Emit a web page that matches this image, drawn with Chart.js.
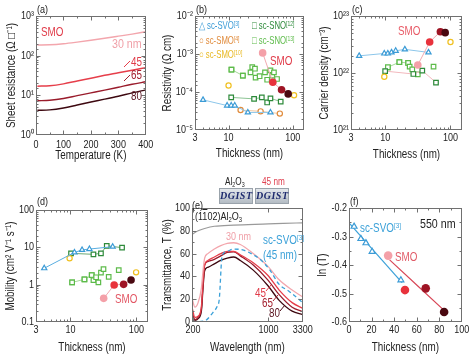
<!DOCTYPE html>
<html>
<head>
<meta charset="utf-8">
<script src="https://cdn.jsdelivr.net/npm/chart.js@4.4.1/dist/chart.umd.min.js"></script>
<style>
  html, body { margin:0; padding:0; background:#fff; }
  #fig { position:relative; width:474px; height:356px; overflow:hidden; background:#fff;
         font-family:'Liberation Sans',Arial,sans-serif; color:#222; }
  #fig canvas { position:absolute; }
  .lbl { position:absolute; white-space:nowrap; line-height:1; font-size:12px; z-index:5;
         transform:scaleX(0.82); transform-origin:0 0; }
  .leg { transform:scaleX(0.74); font-size:10.5px; }
  .lbl sup { font-size:65%; vertical-align:0.5em; line-height:0; }
  .lbl sub { font-size:65%; vertical-align:-0.25em; line-height:0; }
  .logo { position:absolute; z-index:5; background:linear-gradient(#e4e8ec,#b4bcc4); border:1px solid #9aa3ab;
          color:#1d2a6e; font-weight:bold; font-style:italic; font-size:10px; line-height:14px; text-align:center;
          font-family:'Liberation Serif','DejaVu Serif',serif; letter-spacing:0.5px; }
  svg { position:absolute; left:0; top:0; z-index:4; }
</style>
</head>
<body>
<div id="fig">
  <canvas id="cA" width="154" height="163" style="left:4px;top:0px"></canvas>
  <canvas id="cB" width="154" height="161" style="left:160px;top:0px"></canvas>
  <canvas id="cC" width="156" height="162" style="left:317px;top:0px"></canvas>
  <canvas id="cD" width="155" height="175" style="left:3px;top:180px"></canvas>
  <canvas id="cE" width="156" height="175" style="left:160px;top:180px"></canvas>
  <canvas id="cF" width="157" height="175" style="left:315px;top:180px"></canvas>

  <svg width="474" height="356">
    <line x1="124" y1="67" x2="130" y2="61" stroke="#e63e4a" stroke-width="1"/>
    <line x1="124" y1="81" x2="130" y2="75" stroke="#a3202f" stroke-width="1"/>
    <line x1="266" y1="291" x2="271" y2="285" stroke="#e63e4a" stroke-width="1"/>
    <line x1="273" y1="301" x2="278" y2="295" stroke="#a3202f" stroke-width="1"/>
    <line x1="280" y1="311" x2="285" y2="305" stroke="#4a0a14" stroke-width="1"/>
  </svg>

  <!-- panel letters -->
  <div class="lbl" style="left:37px;top:4px;font-size:11px">(a)</div>
  <div class="lbl" style="left:196px;top:4px;font-size:11px">(b)</div>
  <div class="lbl" style="left:352px;top:4px;font-size:11px">(c)</div>
  <div class="lbl" style="left:37px;top:196px;font-size:11px">(d)</div>
  <div class="lbl" style="left:192px;top:200px;font-size:11px">(e)</div>
  <div class="lbl" style="left:350px;top:196px;font-size:11px">(f)</div>

  <!-- (a) annotations -->
  <div class="lbl" style="left:41px;top:26px;color:#e03a48">SMO</div>
  <div class="lbl" style="left:112px;top:37px;font-size:13px;color:#f0a0a8">30 nm</div>
  <div class="lbl" style="left:131px;top:56px;color:#e03a48">45</div>
  <div class="lbl" style="left:131px;top:69px;color:#a3202f">65</div>
  <div class="lbl" style="left:131px;top:90px;color:#5a1420">80</div>

  <!-- (b) legend -->
  <div class="lbl leg" style="left:199px;top:20px;color:#3b9bd6">&#9651; sc-SVO<sup>[3]</sup></div>
  <div class="lbl leg" style="left:199px;top:35px;color:#e08a3a">&#9675; sc-SMO<sup>[4]</sup></div>
  <div class="lbl leg" style="left:199px;top:49px;color:#e8b820">&#9675; sc-SMO<sup>[10]</sup></div>
  <div class="lbl leg" style="left:252px;top:20px;color:#2d8a3a">&#9633; sc-SNO<sup>[12]</sup></div>
  <div class="lbl leg" style="left:252px;top:35px;color:#5dbb4a">&#9633; sc-SNO<sup>[13]</sup></div>
  <div class="lbl" style="left:270px;top:55px;color:#e03a48">SMO</div>

  <!-- (c) -->
  <div class="lbl" style="left:398px;top:25px;color:#e85a66">SMO</div>
  <!-- (d) -->
  <div class="lbl" style="left:115px;top:293px;color:#e25563">SMO</div>

  <!-- (e) -->
  <div class="lbl" style="left:225px;top:177px;font-size:10px">Al<sub>2</sub>O<sub>3</sub></div>
  <div class="lbl" style="left:262px;top:177px;font-size:10px;color:#e04050">45 nm</div>
  <div class="logo" style="left:219px;top:188px;width:32px;height:14px">DGIST</div>
  <div class="logo" style="left:255px;top:188px;width:32px;height:14px">DGIST</div>
  <div class="lbl" style="left:195px;top:211px;font-size:11px">(1<span style="text-decoration:overline">1</span>02)Al<sub>2</sub>O<sub>3</sub></div>
  <div class="lbl" style="left:226px;top:231px;font-size:11px;color:#f0a0a8">30 nm</div>
  <div class="lbl" style="left:263px;top:234px;color:#3aa0d8">sc-SVO<sup>[3]</sup></div>
  <div class="lbl" style="left:263px;top:249px;color:#3aa0d8">(45 nm)</div>
  <div class="lbl" style="left:255px;top:287px;color:#e03a48">45</div>
  <div class="lbl" style="left:262px;top:297px;color:#a3202f">65</div>
  <div class="lbl" style="left:269px;top:307px;color:#5a1420">80</div>

  <!-- (f) -->
  <div class="lbl" style="left:420px;top:217px;font-size:13px">550 nm</div>
  <div class="lbl" style="left:360px;top:222px;color:#3aa0d8">sc-SVO<sup>[3]</sup></div>
  <div class="lbl" style="left:395px;top:251px;color:#e05a66">SMO</div>
</div>

<script>
// ================= DATA =================
// (a) sheet resistance vs temperature
const tempK  = [5, 50, 100, 150, 200, 250, 300, 350, 400];
const rs30nm = [185, 188, 200, 220, 245, 275, 310, 350, 400];
const rs45nm = [17, 17.5, 19.5, 23, 27, 32, 37, 43, 50];
const rs65nm = [7.3, 7.5, 8.3, 9.8, 11.5, 13.5, 16, 19, 22];
const rs80nm = [4.2, 4.3, 4.8, 5.7, 6.8, 8.0, 9.5, 11.5, 13.7];

// tick labels
const thickTickLabels = [3, 10, 100];
const wlTicks = [200, 1000, 3300];

// (b) resistivity vs thickness
const svoB_t   = [4, 9.5, 11, 12.5, 20, 45];
const svoB_rho = [6.2e-5, 4.4e-5, 4.4e-5, 4.4e-5, 2.9e-5, 2.9e-5];
const smo4B_t   = [15.4, 31.6, 63];
const smo4B_rho = [3.35e-5, 3.1e-5, 2.7e-5];
const smo10B_t   = [10, 105];
const smo10B_rho = [1.48e-4, 8.2e-5];
const sno12B_t   = [11, 25, 33, 40, 45, 65];
const sno12B_rho = [7.2e-5, 6.6e-5, 7.2e-5, 5.3e-5, 6.8e-5, 5.6e-5];
const sno13B_t   = [11.1, 16.7, 22, 23.4, 25.8, 26.4, 30.5, 37, 40, 45, 48, 51, 57];
const sno13B_rho = [3.9e-4, 2.7e-4, 3.3e-4, 4.5e-4, 4.1e-4, 2.4e-4, 2.6e-4, 3.3e-4, 2.1e-4, 3.7e-4, 2.7e-4, 3.3e-4, 2.2e-4];
const smoB_t   = [34, 49, 67, 85];
const smoB_rho = [1.07e-3, 1.8e-4, 1.15e-4, 8.9e-5];

// (c) carrier density vs thickness
const svoC_t = [4, 9.7, 11, 12.5, 14.5, 20, 46];
const svoC_n = [2.0e22, 2.2e22, 2.2e22, 2.3e22, 2.45e22, 2.6e22, 2.3e22];
const smo10C_t = [9.7, 100];
const smo10C_n = [8.6e21, 3.5e22];
const sno12C_t = [10, 27, 37, 60];
const sno12C_n = [1.08e22, 9.6e21, 1.1e22, 6.8e21];
const sno13C_t = [11, 16.5, 22.5, 23.7, 26, 31.6, 55];
const sno13C_n = [1.26e22, 1.55e22, 1.5e22, 1.29e22, 1.16e22, 9.5e21, 1.29e22];
const smoC_t = [31.6, 48, 70, 83];
const smoC_n = [1.38e22, 3.5e22, 5.3e22, 5.1e22];

// (d) mobility vs thickness
const svoD_t  = [4, 11.5, 15, 19.4, 43.7];
const svoD_mu = [2.75, 7.3, 8.5, 9, 10.4];
const sno12D_t  = [10.2, 22.3, 29, 35.5, 60.6];
const sno12D_mu = [6.9, 6.5, 6.9, 11, 9.8];
const smo10D_t  = [9.7, 99];
const smo10D_mu = [5.1, 2.14];
const sno13D_t  = [10.6, 16.3, 21, 22.3, 24.5, 26.5, 29, 31.7, 38, 54];
const sno13D_mu = [1.15, 1.39, 1.8, 1.33, 1.58, 1.15, 2.1, 2.6, 1.62, 2.46];
const smoD_t  = [31.9, 46, 64, 83];
const smoD_mu = [0.43, 0.98, 1.02, 1.33];

// (e) transmittance spectra
const wlSub  = [193, 255, 324, 427, 633, 1000, 2000, 3300];
const tSub   = [77, 80, 82, 84, 85, 86, 86.5, 87];
const wlSMO  = [193, 221, 255, 290, 307, 324, 358, 427, 495, 564, 633, 702, 839, 993, 1720, 2588, 3300];
const t30nm  = [20, 13, 17, 30, 45, 56, 60, 64, 67, 69, 69.5, 68, 60, 49, 37, 28, 22];
const t45nm  = [12, 4, 5, 14, 35, 50, 54, 57, 60, 62, 62, 59, 52, 41, 28, 17, 12];
const t65nm  = [8, 2, 4, 12, 33, 50, 53, 55, 58, 61, 61.5, 58, 50, 37, 24, 13, 9];
const t80nm  = [6, 1.5, 3, 10, 30, 45, 48, 51, 54, 56, 57, 54, 45.5, 32, 19, 9.5, 6.5];
const wlSVO  = [193, 324, 409, 458, 479, 509, 561, 633, 736, 818, 911, 1074, 1720, 2372, 3300];
const tSVO   = [0, 1, 8, 14, 20, 58, 62, 64, 63, 60, 55, 46, 33, 27, 17];

// (f) ln(T) at 550 nm vs thickness
const svoF_t   = [4.5, 10.5, 15, 20.5, 46];
const svoF_lnT = [-0.265, -0.308, -0.323, -0.353, -0.453];
const svoFit_t   = [0, 47];
const svoFit_lnT = [-0.252, -0.462];
const smoF_t   = [34.7, 49.6, 68, 84.3];
const smoF_lnT = [-0.367, -0.488, -0.482, -0.565];
const smoFit_t   = [36, 85];
const smoFit_lnT = [-0.382, -0.562];

// ================= STYLE =================
const FONT = "'Liberation Sans',Arial,sans-serif";
const TEXT_SQUEEZE = 0.82;
Chart.defaults.font.family = FONT;
Chart.defaults.color = '#222';
const SMO_COLORS = ['#f4a0a8', '#e8323c', '#9e1424', '#4a0810'];
const C_SVO = '#3b9bd6', C_SVO_LINE = '#8cc6ea';
const C_SMO4 = '#e08a3a', C_SMO10 = '#f0c020';
const C_SNO12 = '#2d8a3a', C_SNO13 = '#5dbb4a';

// ---------- helpers ----------
const SUPS = {'0':'⁰','1':'¹','2':'²','3':'³','4':'⁴','5':'⁵','6':'⁶','7':'⁷','8':'⁸','9':'⁹','-':'⁻'};
const supStr = s => String(s).split('').map(c => SUPS[c] || c).join('');
const isPow10 = v => { const l = Math.log10(v); return Math.abs(l - Math.round(l)) < 1e-6; };
const pow10Label = v => isPow10(v) ? '10' + supStr(Math.round(Math.log10(v))) : '';
const thickLabel = v => thickTickLabels.some(t => Math.abs(v - t) < 1e-6) ? String(v) : '';
const plainPow10 = v => isPow10(v) ? (v >= 1 ? String(Math.round(v)) : String(+v.toPrecision(1))) : '';

// condensed text rendering (the figure uses a narrow face)
const condense = {
  id: 'condense',
  beforeInit(chart) {
    const ctx = chart.ctx;
    const orig = CanvasRenderingContext2D.prototype.fillText;
    ctx.fillText = function (t, x, y) {
      this.save();
      this.translate(x, y);
      this.scale(TEXT_SQUEEZE, 1);
      orig.call(this, t, 0, 0);
      this.restore();
    };
  }
};
Chart.register(condense);

// piecewise wavelength axis (linear to 1000 nm, compressed above)
const WL_MIN = 190, WL_MID = 1000, WL_MAX = 3300, MID_FRAC = 0.69;
const warp = w => w <= WL_MID ? (w - WL_MIN) / (WL_MID - WL_MIN) * MID_FRAC
                              : MID_FRAC + (w - WL_MID) / (WL_MAX - WL_MID) * (1 - MID_FRAC);
const unwarp = u => u <= MID_FRAC ? WL_MIN + u / MID_FRAC * (WL_MID - WL_MIN)
                                  : WL_MID + (u - MID_FRAC) / (1 - MID_FRAC) * (WL_MAX - WL_MID);
class WarpScale extends Chart.LinearScale {
  buildTicks() { return wlTicks.map(v => ({ value: v })); }
  getPixelForValue(v) { return (v == null || isNaN(v)) ? NaN : this.getPixelForDecimal(warp(v)); }
  getValueForPixel(p) { return unwarp(this.getDecimalForPixel(p)); }
}
WarpScale.id = 'warp';
WarpScale.defaults = Chart.LinearScale.defaults;
Chart.register(WarpScale);

// frame + inward ticks on all four sides
const frameTicks = {
  id: 'frameTicks',
  afterDatasetsDraw(chart, args, opts) {
    const { ctx, chartArea: a } = chart;
    ctx.save();
    ctx.strokeStyle = '#707070';
    ctx.lineWidth = 1;
    const L = Math.round(a.left) + 0.5, R = Math.round(a.right) - 0.5;
    const T = Math.round(a.top) + 0.5, B = Math.round(a.bottom) - 0.5;
    ctx.strokeRect(L, T, R - L, B - T);
    ['x', 'y'].forEach(id => {
      const s = chart.scales[id];
      const marks = s.ticks.map(t => ({ v: t.value, major: t.label !== '' && t.label != null }));
      const div = opts && opts[id];
      if (div) {
        for (let i = 0; i < s.ticks.length - 1; i++) {
          const v0 = s.ticks[i].value, v1 = s.ticks[i + 1].value;
          for (let k = 1; k < div; k++) marks.push({ v: v0 + (v1 - v0) * k / div, major: false });
        }
      }
      ctx.beginPath();
      marks.forEach(m => {
        const p = Math.round(s.getPixelForValue(m.v)) + 0.5;
        const len = m.major ? 4 : 2;
        if (id === 'x') {
          if (p < L - 0.1 || p > R + 0.1) return;
          ctx.moveTo(p, B); ctx.lineTo(p, B - len);
          ctx.moveTo(p, T); ctx.lineTo(p, T + len);
        } else {
          if (p < T - 0.1 || p > B + 0.1) return;
          ctx.moveTo(L, p); ctx.lineTo(L + len, p);
          ctx.moveTo(R, p); ctx.lineTo(R - len, p);
        }
      });
      ctx.stroke();
    });
    ctx.restore();
  }
};
Chart.register(frameTicks);

function ax(pos, type, min, max, title, size, tickPad, cb, step) {
  return {
    type, min, max, position: pos,
    grid: { display: false, drawTicks: false },
    border: { display: false },
    title: { display: true, text: title, color: '#222', padding: 0, font: { size: 12 } },
    ticks: { autoSkip: false, maxRotation: 0, minRotation: 0, padding: tickPad, color: '#222',
             font: { size: 11 }, callback: cb, stepSize: step },
    afterFit(s) { if (pos === 'left') s.width = size; else s.height = size; }
  };
}

function pts(xs, ys) { return xs.map((x, i) => ({ x, y: ys[i] })); }

function markers(xs, ys, o) {
  return {
    data: pts(xs, ys),
    showLine: !!o.line,
    borderColor: o.line || 'rgba(0,0,0,0)',
    borderWidth: o.lw || 1,
    pointStyle: o.style || 'circle',
    pointRadius: o.r || 2.6,
    pointBorderColor: o.c,
    pointBackgroundColor: o.fill || '#fff',
    pointBorderWidth: o.pbw == null ? 1.2 : o.pbw,
    order: o.order || 0,
    clip: 4
  };
}

function curve(xs, ys, color, o = {}) {
  return {
    data: pts(xs, ys),
    showLine: true,
    borderColor: color,
    borderWidth: o.lw || 1.4,
    borderDash: o.dash || [],
    pointRadius: 0,
    cubicInterpolationMode: 'monotone',
    order: o.order || 0
  };
}

function opts(xA, yA, pad, frame) {
  return {
    responsive: false, animation: false, devicePixelRatio: 1,
    layout: { padding: pad },
    plugins: { legend: { display: false }, tooltip: { enabled: false }, frameTicks: frame || {} },
    scales: { x: xA, y: yA }
  };
}

function smoSet(xs, ys, r, withLine) {
  return markers(xs, ys, { c: SMO_COLORS, fill: SMO_COLORS, r: r, pbw: 0,
                           line: withLine ? '#f2a9b0' : null, order: 0 });
}

// ================= (a) =================
new Chart(document.getElementById('cA'), {
  type: 'scatter',
  data: { datasets: [
    curve(tempK, rs30nm, '#f3a6ad'),
    curve(tempK, rs45nm, '#e63e4a'),
    curve(tempK, rs65nm, '#9a1c2c'),
    curve(tempK, rs80nm, '#3d0810')
  ] },
  options: opts(
    ax('bottom', 'linear', 0, 400, 'Temperature (K)', 28, 3, v => String(v), 100),
    ax('left', 'logarithmic', 1, 1000, 'Sheet resistance (Ω □⁻¹)', 32, 2, pow10Label),
    { top: 16, right: 10, left: 0, bottom: 0 }, { x: 2 })
});

// ================= (b) =================
new Chart(document.getElementById('cB'), {
  type: 'scatter',
  data: { datasets: [
    smoSet(smoB_t, smoB_rho, 3.8, true),
    markers(svoB_t, svoB_rho, { c: C_SVO, style: 'triangle', r: 3, line: C_SVO_LINE, order: 1 }),
    markers(smo4B_t, smo4B_rho, { c: C_SMO4, r: 2.6, line: '#f1c9a4', order: 1 }),
    markers(smo10B_t, smo10B_rho, { c: C_SMO10, r: 2.6, order: 1 }),
    markers(sno12B_t, sno12B_rho, { c: C_SNO12, style: 'rect', r: 3.2, line: '#8cc494', order: 1 }),
    markers(sno13B_t, sno13B_rho, { c: C_SNO13, style: 'rect', r: 3.2, order: 1 }),
    markers(sno13B_t.slice(0, 2), sno13B_rho.slice(0, 2), { c: C_SNO13, style: 'rect', r: 3.2, line: '#a6d99a', order: 2 })
  ] },
  options: opts(
    ax('bottom', 'logarithmic', 3, 150, 'Thickness (nm)', 31, 1, thickLabel),
    ax('left', 'logarithmic', 1e-5, 1e-2, 'Resistivity (Ω cm)', 35, 2, pow10Label),
    { top: 16, right: 10, left: 0, bottom: 0 })
});

// ================= (c) =================
new Chart(document.getElementById('cC'), {
  type: 'scatter',
  data: { datasets: [
    smoSet(smoC_t, smoC_n, 3.8, true),
    markers(svoC_t, svoC_n, { c: C_SVO, style: 'triangle', r: 3, line: C_SVO_LINE, order: 1 }),
    markers(smo10C_t, smo10C_n, { c: C_SMO10, r: 2.6, order: 1 }),
    markers(sno12C_t, sno12C_n, { c: C_SNO12, style: 'rect', r: 3.2, line: '#f2b8bd', order: 1 }),
    markers(sno13C_t, sno13C_n, { c: C_SNO13, style: 'rect', r: 3.2, order: 1 }),
    markers(sno13C_t.slice(0, 3), sno13C_n.slice(0, 3), { c: C_SNO13, style: 'rect', r: 3.2, line: '#a6d99a', order: 2 })
  ] },
  options: opts(
    ax('bottom', 'logarithmic', 3, 150, 'Thickness (nm)', 32, 1, thickLabel),
    ax('left', 'logarithmic', 1e21, 1e23, 'Carrier density (cm⁻³)', 34, 2, pow10Label),
    { top: 16, right: 11, left: 0, bottom: 0 })
});

// ================= (d) =================
new Chart(document.getElementById('cD'), {
  type: 'scatter',
  data: { datasets: [
    smoSet(smoD_t, smoD_mu, 3.8, true),
    markers(svoD_t, svoD_mu, { c: C_SVO, style: 'triangle', r: 3, line: '#5aaee0', order: 1 }),
    markers(smo10D_t, smo10D_mu, { c: C_SMO10, r: 2.6, order: 1 }),
    markers(sno12D_t, sno12D_mu, { c: C_SNO12, style: 'rect', r: 3.2, line: '#6aa874', order: 1 }),
    markers(sno13D_t, sno13D_mu, { c: C_SNO13, style: 'rect', r: 3.2, order: 1 }),
    markers(sno13D_t.slice(0, 3), sno13D_mu.slice(0, 3), { c: C_SNO13, style: 'rect', r: 3.2, line: '#a6d99a', order: 2 })
  ] },
  options: opts(
    ax('bottom', 'logarithmic', 3, 150, 'Thickness (nm)', 33, 1, thickLabel),
    ax('left', 'logarithmic', 0.1, 100, 'Mobility (cm² V⁻¹ s⁻¹)', 33, 2, plainPow10),
    { top: 30, right: 10, left: 0, bottom: 0 })
});

// ================= (e) =================
new Chart(document.getElementById('cE'), {
  type: 'scatter',
  data: { datasets: [
    curve(wlSub, tSub, '#9a9a9a', { lw: 1.2 }),
    curve(wlSVO, tSVO, '#3aa0d8', { lw: 1.3, dash: [4, 3] }),
    curve(wlSMO, t30nm, '#f3a6ad', { lw: 1.3 }),
    curve(wlSMO, t45nm, '#e63e4a', { lw: 1.3 }),
    curve(wlSMO, t65nm, '#9a1c2c', { lw: 1.3 }),
    curve(wlSMO, t80nm, '#3d0810', { lw: 1.3 })
  ] },
  options: opts(
    ax('bottom', 'warp', WL_MIN, WL_MAX, 'Wavelength (nm)', 33, 1, v => String(v)),
    ax('left', 'linear', 0, 100, 'Transmittance, T (%)', 32, 2, v => String(v), 20),
    { top: 28, right: 10, left: 0, bottom: 0 }, { y: 2 })
});

// ================= (f) =================
new Chart(document.getElementById('cF'), {
  type: 'scatter',
  data: { datasets: [
    smoSet(smoF_t, smoF_lnT, 4.3, false),
    markers(svoF_t, svoF_lnT, { c: C_SVO, style: 'triangle', r: 3.4, order: 1 }),
    curve(svoFit_t, svoFit_lnT, '#3aa0d8', { lw: 1.2, order: 2 }),
    curve(smoFit_t, smoFit_lnT, '#d84858', { lw: 1.2, order: 2 })
  ] },
  options: opts(
    ax('bottom', 'linear', 0, 100, 'Thickness (nm)', 33, 1, v => String(v), 20),
    ax('left', 'linear', -0.6, -0.2, 'ln (T)', 34, 2, v => (Math.abs(v) < 1e-9 ? '0' : v.toFixed(1)), 0.1),
    { top: 28, right: 10, left: 0, bottom: 0 }, { x: 2, y: 2 })
});
</script>
</body>
</html>
